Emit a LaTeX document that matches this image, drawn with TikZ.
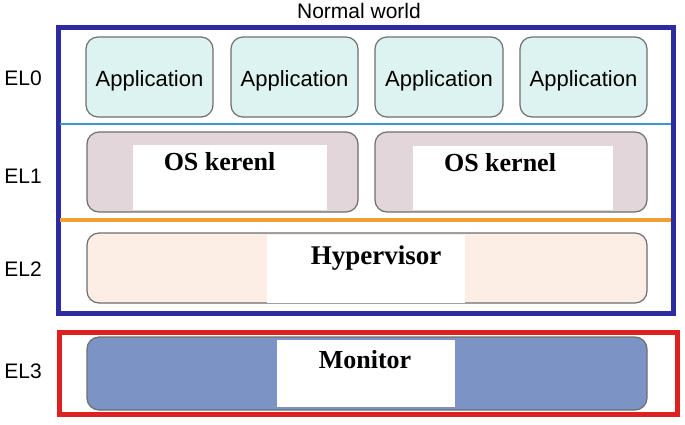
\documentclass[tikz,border=0pt]{standalone}
\usepackage{fontspec}
\setmainfont{Liberation Serif}
\setsansfont{Liberation Sans}
\definecolor{frameblue}{RGB}{44,44,160}
\definecolor{framered}{RGB}{222,32,32}
\definecolor{appfill}{RGB}{221,243,242}
\definecolor{boxline}{RGB}{110,110,110}
\definecolor{osfill}{RGB}{226,214,218}
\definecolor{hypfill}{RGB}{252,237,229}
\definecolor{monfill}{RGB}{123,147,197}
\definecolor{lineblue}{RGB}{58,154,208}
\definecolor{lineorange}{RGB}{240,160,48}
\begin{document}
\begin{tikzpicture}[x=1pt,y=-1pt,
  lab/.style={font=\sffamily\fontsize{21}{21}\selectfont, anchor=base, inner sep=0pt},
  apptext/.style={font=\sffamily\fontsize{22}{22}\selectfont, anchor=base, inner sep=0pt},
  sertext/.style={font=\bfseries\fontsize{26}{26}\selectfont, anchor=base, inner sep=0pt},
  frame/.style={draw, line width=5pt, inner sep=0pt, outer sep=0pt},
  layerbox/.style={draw=boxline, line width=1.2pt, rounded corners=12pt, inner sep=0pt, outer sep=0pt},
  whitebox/.style={fill=white, inner sep=0pt, outer sep=0pt}
]
\useasboundingbox (0,0) rectangle (685,424);
% frames
\node[frame, draw=frameblue, minimum width=615pt, minimum height=286pt] (normal) at (365.5,170) {};
\node[frame, draw=framered, minimum width=618pt, minimum height=82pt] (secure) at (368,373) {};
% dividers
\coordinate (d1a) at (60,124);
\coordinate (d1b) at (671,124);
\coordinate (d2a) at (60,220);
\coordinate (d2b) at (671,220);
\draw[lineblue, line width=2.5pt] (d1a) -- (d1b);
\draw[lineorange, line width=3.5pt] (d2a) -- (d2b);
% EL0 applications
\node[layerbox, fill=appfill, minimum width=127pt, minimum height=80pt] (app1) at (149.5,77) {};
\node[layerbox, fill=appfill, minimum width=127pt, minimum height=80pt] (app2) at (294.5,77) {};
\node[layerbox, fill=appfill, minimum width=128pt, minimum height=80pt] (app3) at (439,77) {};
\node[layerbox, fill=appfill, minimum width=127pt, minimum height=80pt] (app4) at (583.5,77) {};
\node[apptext] (app1t) at (149.5,86) {Application};
\node[apptext] (app2t) at (294.5,86) {Application};
\node[apptext] (app3t) at (439,86) {Application};
\node[apptext] (app4t) at (583.5,86) {Application};
% EL1 kernels
\node[layerbox, fill=osfill, minimum width=271pt, minimum height=80pt] (os1) at (222.5,172) {};
\node[layerbox, fill=osfill, minimum width=272pt, minimum height=80pt] (os2) at (511,172) {};
\node[whitebox, minimum width=194pt, minimum height=65pt] (os1w) at (230,177.5) {};
\node[whitebox, minimum width=200pt, minimum height=64pt] (os2w) at (513,178) {};
\node[sertext] (os1t) at (219.5,170) {OS kerenl};
\node[sertext] (os2t) at (500,171) {OS kernel};
% EL2 hypervisor
\node[layerbox, fill=hypfill, minimum width=560pt, minimum height=70pt] (hyp) at (367,268) {};
\node[whitebox, minimum width=198pt, minimum height=68pt] (hypw) at (366,269) {};
\node[sertext, font=\bfseries\fontsize{27}{27}\selectfont] (hypt) at (376,264) {Hypervisor};
% EL3 monitor
\node[layerbox, fill=monfill, minimum width=560pt, minimum height=73pt] (mon) at (367,373.5) {};
\node[whitebox, minimum width=178pt, minimum height=67pt] (monw) at (366,373.5) {};
\node[sertext] (mont) at (365,368) {Monitor};
% labels
\node[lab] (nw) at (359,18) {Normal world};
\node[lab] (el0) at (23,85) {EL0};
\node[lab] (el1) at (23,183) {EL1};
\node[lab] (el2) at (23,276) {EL2};
\node[lab] (el3) at (23,378) {EL3};
\end{tikzpicture}
\end{document}
